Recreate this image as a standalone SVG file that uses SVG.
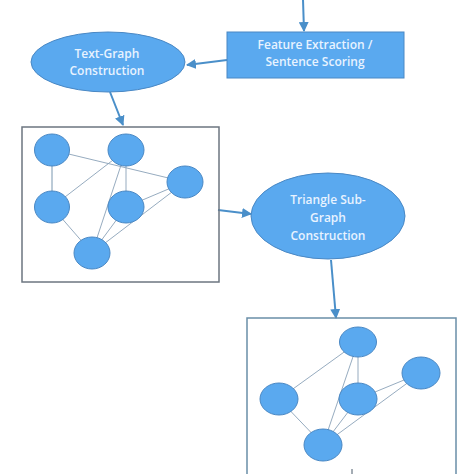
<svg xmlns="http://www.w3.org/2000/svg" width="474" height="474" viewBox="0 0 474 474">
<defs>
<style>
.node{fill:#5aa9ef;stroke:#4a88c4;stroke-width:1}
.proc{fill:#5aa9ef;stroke:#4a88c4;stroke-width:1}
.lbl{font-family:"Open Sans","Liberation Sans",Arial,sans-serif;font-size:12px;font-weight:600;fill:#e8f3ff;text-anchor:middle}
.flow{stroke:#4a8fc9;stroke-width:2;fill:none;marker-end:url(#ah)}
.edge{stroke:#8aa2b8;stroke-width:0.9;fill:none}
.frame{fill:none;stroke:#6c7680;stroke-width:1.5}
</style>
<marker id="ah" viewBox="0 0 10 10" refX="9" refY="5" markerWidth="5" markerHeight="5" orient="auto">
<path d="M0,0 L10,5 L0,10 z" fill="#4a8fc9"/>
</marker>
</defs>
<rect width="474" height="474" fill="#ffffff"/>
<g id="connectors">
<line class="flow" x1="303" y1="0" x2="304" y2="31"/>
<line class="flow" x1="227" y1="60" x2="187" y2="65"/>
<line class="flow" x1="110" y1="92" x2="123" y2="125"/>
<line class="flow" x1="218" y1="210" x2="251" y2="214"/>
<line class="flow" x1="331" y1="260" x2="336" y2="318"/>
<line stroke="#4a5a6a" stroke-width="1" x1="352" y1="469" x2="352" y2="474"/>
</g>
<g id="feature-extraction">
<rect class="proc" x="227" y="32" width="177" height="46"/>
<text class="lbl" x="315" y="49">Feature Extraction /</text>
<text class="lbl" x="315" y="66">Sentence Scoring</text>
</g>
<g id="text-graph-construction">
<ellipse class="node" cx="108" cy="62" rx="77" ry="30"/>
<text class="lbl" x="107" y="58">Text-Graph</text>
<text class="lbl" x="107" y="75">Construction</text>
</g>
<g id="text-graph">
<rect class="frame" x="22" y="127" width="197" height="155"/>
<line class="edge" x1="52" y1="150" x2="52" y2="207" style="stroke:#6a8aa6"/>
<line class="edge" x1="52" y1="150" x2="185" y2="182"/>
<line class="edge" x1="126" y1="150" x2="52" y2="207"/>
<line class="edge" x1="126" y1="150" x2="126" y2="207"/>
<line class="edge" x1="126" y1="150" x2="92" y2="253"/>
<line class="edge" x1="52" y1="207" x2="92" y2="253"/>
<line class="edge" x1="126" y1="207" x2="92" y2="253"/>
<line class="edge" x1="126" y1="207" x2="185" y2="182"/>
<line class="edge" x1="185" y1="182" x2="92" y2="253"/>
<ellipse class="node" cx="52" cy="150" rx="17.5" ry="16"/>
<ellipse class="node" cx="126" cy="150" rx="18" ry="16"/>
<ellipse class="node" cx="185" cy="182" rx="18" ry="16"/>
<ellipse class="node" cx="52" cy="207" rx="17.5" ry="16"/>
<ellipse class="node" cx="126" cy="207" rx="18" ry="16"/>
<ellipse class="node" cx="92" cy="253" rx="18" ry="16"/>
</g>
<g id="triangle-subgraph-construction">
<ellipse class="node" cx="328" cy="216" rx="77" ry="43"/>
<text class="lbl" x="328" y="204">Triangle Sub-</text>
<text class="lbl" x="328" y="222">Graph</text>
<text class="lbl" x="328" y="240">Construction</text>
</g>
<g id="triangle-subgraph">
<rect class="frame" x="247" y="318" width="209" height="160" style="stroke:#6a8ea8"/>
<line class="edge" x1="358" y1="342" x2="279" y2="399"/>
<line class="edge" x1="358" y1="342" x2="323" y2="445"/>
<line class="edge" x1="358" y1="342" x2="358" y2="399"/>
<line class="edge" x1="279" y1="399" x2="323" y2="445"/>
<line class="edge" x1="358" y1="399" x2="323" y2="445"/>
<line class="edge" x1="358" y1="399" x2="421" y2="373"/>
<line class="edge" x1="421" y1="373" x2="323" y2="445"/>
<ellipse class="node" cx="358" cy="342" rx="18.5" ry="15"/>
<ellipse class="node" cx="279" cy="399" rx="19" ry="16"/>
<ellipse class="node" cx="358" cy="399" rx="19" ry="16"/>
<ellipse class="node" cx="421" cy="373" rx="19" ry="16"/>
<ellipse class="node" cx="323" cy="445" rx="19" ry="16"/>
</g>
</svg>
